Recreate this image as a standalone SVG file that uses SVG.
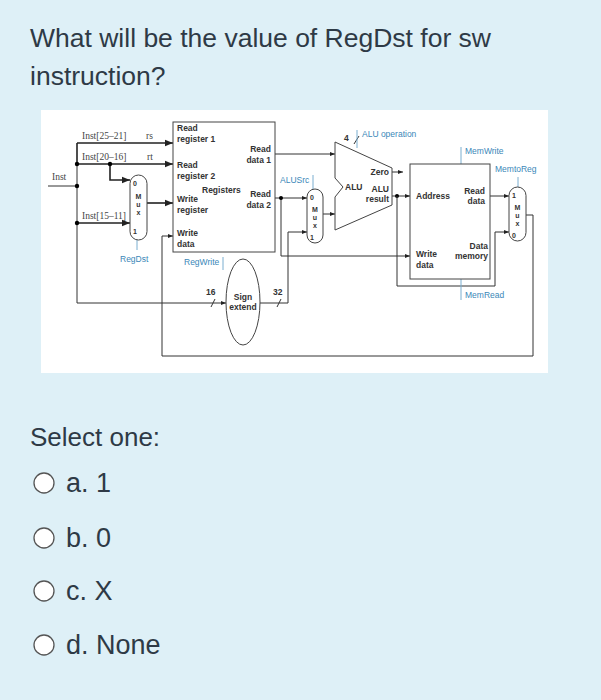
<svg xmlns="http://www.w3.org/2000/svg" width="601" height="700" viewBox="0 0 601 700">
<defs>
<marker id="a" viewBox="0 0 10 10" refX="10" refY="5" markerWidth="5" markerHeight="5" orient="auto"><path d="M0,1 L10,5 L0,9 z" fill="#222"/></marker>
<style>
.q{font-family:"Liberation Sans",Arial,sans-serif;fill:#2e3a46}
.t{font-family:"Liberation Sans",Arial,sans-serif;font-size:8.5px;font-weight:bold;fill:#333}
.m{font-family:"Liberation Sans",Arial,sans-serif;font-size:7px;font-weight:bold;fill:#333;text-anchor:middle}
.s{font-family:"Liberation Serif",serif;font-size:9.5px;fill:#444}
.c{font-family:"Liberation Sans",Arial,sans-serif;font-size:8.5px;fill:#3a87b8}
.w{fill:none;stroke:#333;stroke-width:1}
.b{fill:none;stroke:#222;stroke-width:1.6}
.k{fill:none;stroke:#7aaed0;stroke-width:1}
.o{fill:#fff;stroke:#444;stroke-width:1}
.r{text-anchor:end}
.rb{fill:#fff;stroke:#555;stroke-width:1.3}
</style>
</defs>
<rect width="601" height="700" fill="#def0f7"/>
<text class="q" x="30" y="47" font-size="26.5">What will be the value of RegDst for sw</text>
<text class="q" x="30" y="85" font-size="26.5">instruction?</text>
<rect x="41" y="110" width="507" height="263" fill="#fff"/>
<g id="connectors">
<path class="w" d="M48,186 H77"/>
<path class="b" d="M77,143 V164"/><path class="w" d="M77,164 V303 H226" marker-end="url(#a)"/>
<path class="b" d="M77,143 H173" marker-end="url(#a)"/>
<path class="b" d="M77,164 H173" marker-end="url(#a)"/>
<path class="b" d="M110,164 V180 H130" marker-end="url(#a)"/>
<path class="b" d="M77,223 H130" marker-end="url(#a)"/>
<path class="b" d="M147,203 H173" marker-end="url(#a)"/>
<circle cx="77" cy="164" r="2.2"/><circle cx="77" cy="186" r="2.2"/><circle cx="77" cy="223" r="2.2"/><circle cx="110" cy="164" r="2.2"/>
<path class="w" d="M275,154 H335" marker-end="url(#a)"/>
<path class="w" d="M275,198 H307" marker-end="url(#a)"/>
<path class="w" d="M281,198 V256 H410" marker-end="url(#a)"/>
<circle cx="281" cy="198" r="2"/>
<path class="w" d="M260,303 H288 V232 H307" marker-end="url(#a)"/>
<path class="w" d="M323,214 H335" marker-end="url(#a)"/>
<path class="w" d="M392,172 H403" marker-end="url(#a)"/>
<path class="w" d="M392,196 H410" marker-end="url(#a)"/>
<circle cx="397" cy="196" r="2"/>
<path class="w" d="M397,196 V286 H495 V232 H509" marker-end="url(#a)"/>
<path class="w" d="M490,196 H509" marker-end="url(#a)"/>
<path class="w" d="M526,215 H533 V356 H162 V236 H173" marker-end="url(#a)"/>
<path class="w" d="M211,307 L215,299 M277,307 L281,299 M354,144 L359,136"/>
<path class="k" d="M137,240 V250 M223,257 V270 M313,175 V190 M357,130 V148 M461,147 V164 M518,177 V188 M461,279 V300"/>
</g>
<g id="registers"><rect class="o" x="173" y="122" width="102" height="130"/>
<text class="t" x="177" y="131">Read</text><text class="t" x="177" y="142">register 1</text>
<text class="t" x="177" y="168">Read</text><text class="t" x="177" y="179">register 2</text>
<text class="t" x="177" y="202">Write</text><text class="t" x="177" y="213">register</text>
<text class="t" x="177" y="236">Write</text><text class="t" x="177" y="247">data</text>
<text class="t" x="202" y="193">Registers</text>
<text class="t r" x="271" y="152">Read</text><text class="t r" x="271" y="163">data 1</text>
<text class="t r" x="271" y="197">Read</text><text class="t r" x="271" y="208">data 2</text></g>
<g id="labels">
<text class="s" x="52" y="180">Inst</text>
<text class="s" x="82" y="139">Inst[25–21]</text><text class="s" x="146" y="139">rs</text>
<text class="s" x="82" y="160">Inst[20–16]</text><text class="s" x="147" y="160">rt</text>
<text class="s" x="82" y="219">Inst[15–11]</text>
<text class="c" x="120" y="262">RegDst</text>
<text class="c" x="184" y="265">RegWrite</text>
<text class="c" x="280" y="183">ALUSrc</text>
<text class="c" x="362" y="137">ALU operation</text>
<text class="t" x="344" y="141" font-weight="normal">4</text>
<text class="c" x="465" y="154">MemWrite</text>
<text class="c" x="495" y="172">MemtoReg</text>
<text class="c" x="465" y="298">MemRead</text>
<text class="t" x="206" y="295" font-weight="normal">16</text>
<text class="t" x="273" y="295" font-weight="normal">32</text>
</g>
<g id="mux1"><rect class="o" x="130" y="175" width="17" height="65" rx="8.5"/>
<text class="m" x="135" y="186">0</text><text class="m" x="138.5" y="199">M</text><text class="m" x="138.5" y="207">u</text><text class="m" x="138.5" y="215">x</text><text class="m" x="135" y="234">1</text></g>
<g id="mux2"><rect class="o" x="307" y="189" width="16" height="54" rx="8"/>
<text class="m" x="312" y="200">0</text><text class="m" x="315" y="212">M</text><text class="m" x="315" y="220">u</text><text class="m" x="315" y="228">x</text><text class="m" x="312" y="240">1</text></g>
<g id="mux3"><rect class="o" x="509" y="187" width="17" height="54" rx="8.5"/>
<text class="m" x="514" y="198">1</text><text class="m" x="517.5" y="210">M</text><text class="m" x="517.5" y="218">u</text><text class="m" x="517.5" y="226">x</text><text class="m" x="514" y="238">0</text></g>
<g id="signext"><ellipse class="o" cx="243" cy="302" rx="17" ry="43"/>
<text class="t" x="243" y="300" text-anchor="middle">Sign</text><text class="t" x="243" y="310" text-anchor="middle">extend</text></g>
<g id="alu"><path class="o" d="M335,142 L392,168 V205 L335,230 V197 L343,187 L335,178 Z"/>
<text class="t" x="345" y="190">ALU</text>
<text class="t r" x="389" y="175">Zero</text>
<text class="t r" x="389" y="192">ALU</text><text class="t r" x="389" y="202">result</text></g>
<g id="datamem"><rect class="o" x="410" y="164" width="80" height="115"/>
<text class="t" x="416" y="199">Address</text>
<text class="t r" x="485" y="194">Read</text><text class="t r" x="485" y="204">data</text>
<text class="t r" x="488" y="249">Data</text><text class="t r" x="488" y="259">memory</text>
<text class="t" x="416" y="257">Write</text><text class="t" x="416" y="268">data</text></g>
<g id="options">
<text class="q" x="30" y="446" font-size="26">Select one:</text>
<circle class="rb" cx="44" cy="483" r="10"/><text class="q" x="66" y="492" font-size="27">a. 1</text>
<circle class="rb" cx="44" cy="538" r="10"/><text class="q" x="66" y="547" font-size="27">b. 0</text>
<circle class="rb" cx="44" cy="591" r="10"/><text class="q" x="66" y="600" font-size="27">c. X</text>
<circle class="rb" cx="44" cy="645" r="10"/><text class="q" x="66" y="654" font-size="27">d. None</text>
</g>
</svg>
